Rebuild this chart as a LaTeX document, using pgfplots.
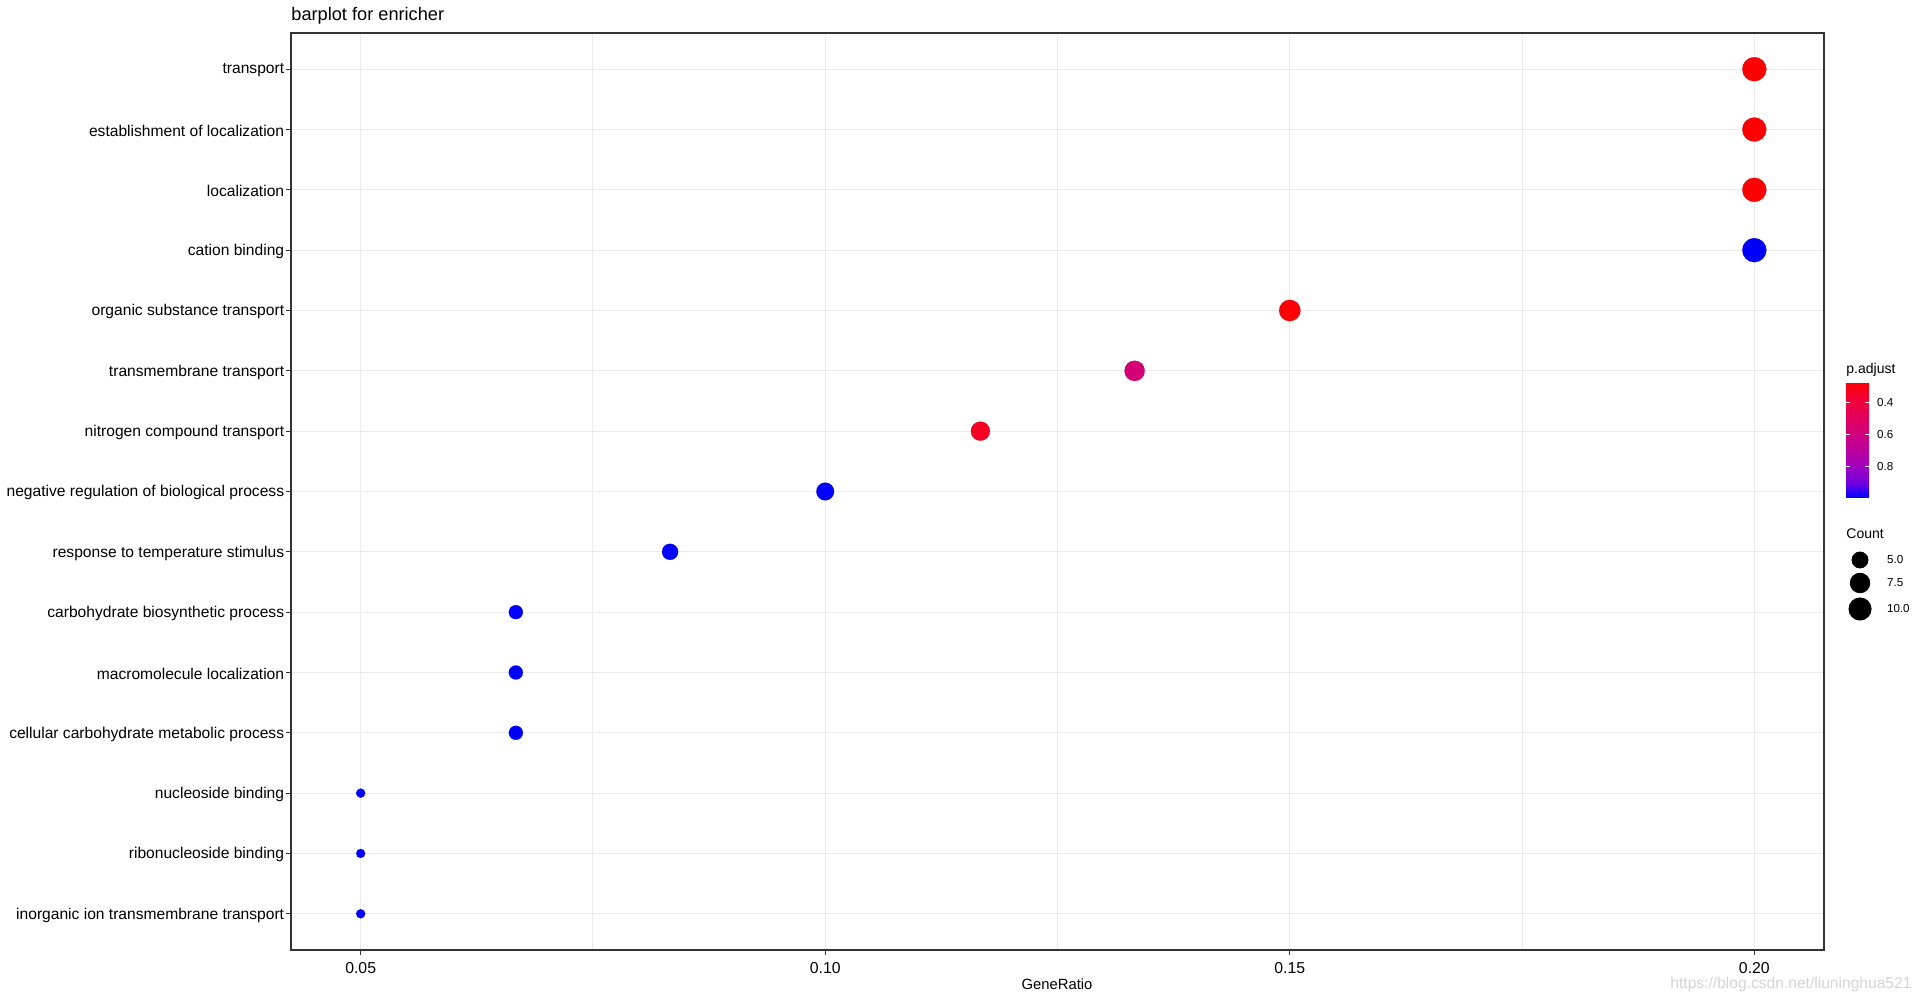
\documentclass[border=0pt]{standalone}
\usepackage{fontspec}
\setmainfont{Liberation Sans}
\usepackage{pgfplots}
\pgfplotsset{compat=1.18}
\usepackage{pgfplotstable}

\definecolor{gridgray}{HTML}{EBEBEB}
\definecolor{frame}{HTML}{333333}
\definecolor{wmark}{HTML}{D4D4D4}

% GeneRatio, Count, p.adjust; y = row position (1 = bottom)
\pgfplotstableread{
idx ratio   count padj
1   0.05    3     0.99
2   0.05    3     0.99
3   0.05    3     0.99
4   0.0667  4     0.99
5   0.0667  4     0.99
6   0.0667  4     0.99
7   0.0833  5     0.99
8   0.10    6     0.99
9   0.1167  7     0.335
10  0.1333  8     0.57
11  0.15    9     0.28
12  0.20    12    0.99
13  0.20    12    0.27
14  0.20    12    0.27
15  0.20    12    0.27
}\enrich

\pgfplotstableread{
x    y    count
1860 560  5.0
1860 583  7.5
1860 609  10.0
}\countlegend

\pgfplotsset{
  colormap={labrb}{rgb255=(255,0,0) rgb255=(244,0,49) rgb255=(232,0,80)
    rgb255=(218,0,108) rgb255=(202,0,137) rgb255=(181,0,165)
    rgb255=(154,0,195) rgb255=(115,0,224) rgb255=(0,0,255)},
}

\begin{document}
\begin{tikzpicture}
\path[use as bounding box] (0,0) rectangle (960pt,500.5pt);

\begin{axis}[
  at={(145.5pt,25.5pt)}, anchor=south west,
  scale only axis, width=766.5pt, height=458.5pt,
  xmin=0.0425, xmax=0.2075, ymin=0.4, ymax=15.6,
  xtick={0.05,0.1,0.15,0.2}, xticklabels={0.05,0.10,0.15,0.20},
  minor xtick={0.075,0.125,0.175},
  ytick={1,...,15},
  yticklabels={inorganic ion transmembrane transport, ribonucleoside binding,
    nucleoside binding, cellular carbohydrate metabolic process,
    macromolecule localization, carbohydrate biosynthetic process,
    response to temperature stimulus, negative regulation of biological process,
    nitrogen compound transport, transmembrane transport,
    organic substance transport, cation binding, localization,
    establishment of localization, transport},
  grid=both,
  major grid style={color=gridgray, line width=0.5pt},
  minor grid style={color=gridgray, line width=0.5pt},
  axis line style={color=frame, line width=0.55pt},
  tick style={color=frame, line width=0.5pt},
  major tick length=2.5pt, minor tick length=0pt,
  tick align=outside, xtick pos=lower, ytick pos=left,
  yticklabel style={font=\fontsize{7.8}{9}\selectfont, text=black, xshift=2.6pt, yshift=-0.6pt},
  xticklabel style={font=\fontsize{7.9}{9}\selectfont, text=black},
  point meta min=0.27, point meta max=0.99,
  colormap name=labrb,
  colorbar,
  colorbar style={
    at={(1.01435,0.6194)}, anchor=north west,
    width=11.5pt, height=57.5pt,
    y dir=reverse,
    ytick={0.4,0.6,0.8},
    yticklabels={0.4,0.6,0.8},
    yticklabel pos=right, ytick pos=both,
    tick align=inside, major tick length=2pt,
    tick style={color=white, line width=0.5pt},
    axis line style={draw=none},
    yticklabel style={font=\fontsize{5.8}{7}\selectfont, xshift=0.5pt},
  },
  clip=false,
]
\addplot[scatter, only marks, mark=*, scatter src=explicit,
  mark options={line width=0.1pt},
  visualization depends on={\thisrow{count} \as \cnt},
  scatter/@pre marker code/.append style={
    /tikz/mark size={(9+15*sqrt((\cnt-3)/9))/4}}]
  table[x=ratio, y=idx, meta=padj] {\enrich};
\end{axis}

% Count legend
\begin{axis}[
  at={(920pt,188pt)}, anchor=south west,
  scale only axis, width=40pt, height=40pt,
  xmin=1840, xmax=1920, ymin=545, ymax=625, y dir=reverse,
  hide axis, clip=false,
]
\addplot[only marks, mark=*, black,
  visualization depends on={\thisrow{count} \as \cnt},
  scatter, scatter src=explicit, point meta=0,
  scatter/use mapped color={draw=black, fill=black},
  scatter/@pre marker code/.append style={
    /tikz/mark size={(9+15*sqrt((\cnt-3)/9))/4}}]
  table[x=x, y=y] {\countlegend};
\node[anchor=west, font=\fontsize{5.8}{7}\selectfont] at (axis cs:1880,560) {5.0};
\node[anchor=west, font=\fontsize{5.8}{7}\selectfont] at (axis cs:1880,583) {7.5};
\node[anchor=west, font=\fontsize{5.8}{7}\selectfont] at (axis cs:1880,609) {10.0};
\end{axis}

% titles and labels
\node[anchor=base west, inner sep=0pt, font=\fontsize{9.1}{11}\selectfont] at (145.5pt,490pt) {barplot for enricher};
\node[anchor=base, inner sep=0pt, font=\fontsize{7.4}{9}\selectfont] at (528.5pt,6pt) {GeneRatio};
\node[anchor=base west, inner sep=0pt, font=\fontsize{7}{8}\selectfont] at (923pt,313.5pt) {p.adjust};
\node[anchor=base west, inner sep=0pt, font=\fontsize{7}{8}\selectfont] at (923pt,231pt) {Count};
\node[anchor=base west, inner sep=0pt, text=wmark, font=\fontsize{7.8}{9}\selectfont] at (835pt,6.5pt) {https://blog.csdn.net/liuninghua521};
\end{tikzpicture}
\end{document}
